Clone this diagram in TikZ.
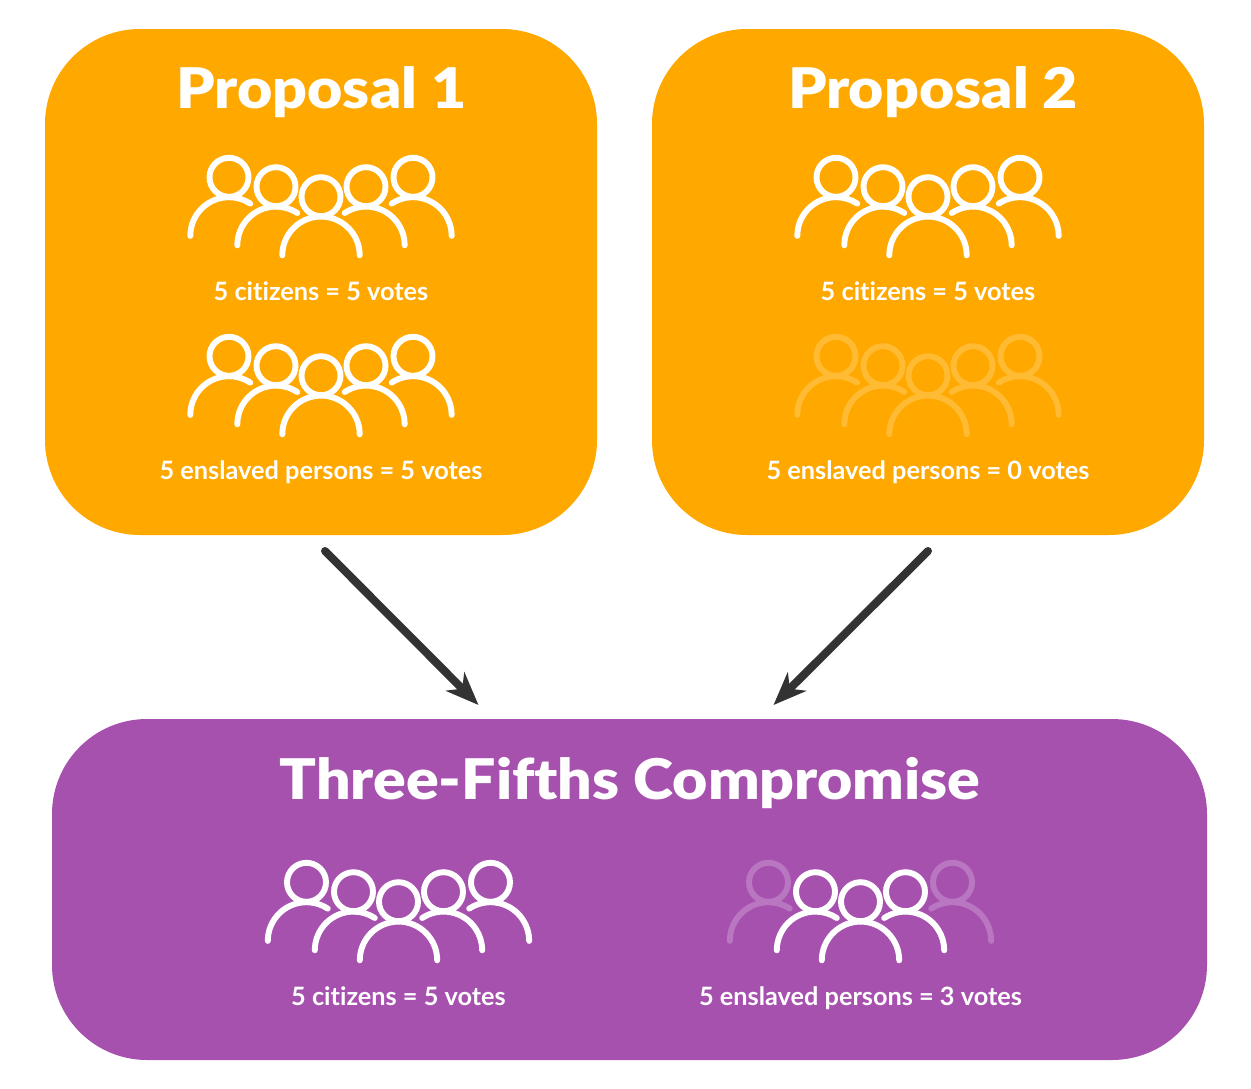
\documentclass[tikz,border=0pt]{standalone}
\usepackage{fontspec}
\setmainfont{Lato}[BoldFont={Lato Black},BoldFeatures={FakeStretch=1.085},Ligatures=NoCommon]
\newfontfamily\capfont{Lato}[BoldFont={Lato Bold},Ligatures=NoCommon]
\usetikzlibrary{arrows.meta}
\definecolor{orangebox}{HTML}{FFA800}
\definecolor{purplebox}{HTML}{A751AF}
\definecolor{orangefade}{HTML}{FFBB33}
\definecolor{purplefade}{HTML}{B976C1}
\definecolor{arrowdark}{HTML}{333333}
\tikzset{
  panel/.style={rounded corners=95pt,inner sep=0pt,outer sep=0pt},
  titletext/.style={text=white,anchor=base,inner sep=0pt,font=\fontsize{56}{60}\selectfont\bfseries},
  captiontext/.style={text=white,anchor=base,inner sep=0pt,font=\capfont\fontsize{25.3}{28}\selectfont\bfseries},
  flow/.style={draw=arrowdark,line width=8pt,line cap=round,-{Stealth[length=33pt,width=26pt,inset=10pt]}},
  figure/.style={line width=5.9pt,line cap=round,fill=none}
}
% one head with shoulders: #1 x, #2 y of the head, #3 start angle, #4 end angle, #5 colour
\newcommand{\headbody}[5]{%
  \draw[figure,draw=#5] (#1,#2) circle[radius=19.5pt];
  \draw[figure,draw=#5] ({#1+38.7*cos(#3)},{#2+58.6-38.7*sin(#3)})
     arc[start angle=#3,end angle=#4,radius=38.7pt];
}
% five figures: #1 centre x, #2 centre head y, #3 outer colour, #4 inner colour
\newcommand{\crowd}[4]{%
  \headbody{#1-92}{#2-19.4}{180}{56.6}{#3}
  \headbody{#1+92}{#2-19.4}{123.4}{0}{#3}
  \headbody{#1-45}{#2-10}{180}{56.6}{#4}
  \headbody{#1+45}{#2-10}{123.4}{0}{#4}
  \headbody{#1}{#2}{180}{0}{#4}
}
\begin{document}
\begin{tikzpicture}[x=1pt,y=-1pt]
\useasboundingbox (0,0) rectangle (1251,1088);
\node[panel,fill=orangebox,minimum width=552pt,minimum height=506pt] (box1) at (321,282) {};
\node[panel,fill=orangebox,minimum width=552pt,minimum height=506pt] (box2) at (928,282) {};
\node[panel,fill=purplebox,minimum width=1155pt,minimum height=341pt] (box3) at (629.5,889.5) {};

\node[titletext] (t1) at (321.5,108.5) {Proposal 1};
\node[titletext] (t2) at (933,108.5) {Proposal 2};
\node[titletext] (t3) at (630,799.5) {Three-Fifths Compromise};

\crowd{321}{196.7}{white}{white}
\crowd{321}{375.7}{white}{white}
\crowd{928}{196.7}{white}{white}
\crowd{928}{375.7}{orangefade}{orangefade}
\crowd{398.5}{901.7}{white}{white}
\crowd{860.5}{901.7}{purplefade}{white}

\node[captiontext] (c1) at (321,300.7) {5 citizens = 5 votes};
\node[captiontext] (c2) at (321,479.7) {5 enslaved persons = 5 votes};
\node[captiontext] (c3) at (928,300.7) {5 citizens = 5 votes};
\node[captiontext] (c4) at (928,479.7) {5 enslaved persons = 0 votes};
\node[captiontext] (c5) at (398.5,1005.7) {5 citizens = 5 votes};
\node[captiontext] (c6) at (860.5,1005.7) {5 enslaved persons = 3 votes};

\coordinate (a1s) at (325,551);
\coordinate (a1e) at (478.5,705);
\coordinate (a2s) at (928,551);
\coordinate (a2e) at (773.5,705);
\draw[flow] (a1s) -- (a1e);
\draw[flow] (a2s) -- (a2e);
\end{tikzpicture}
\end{document}
